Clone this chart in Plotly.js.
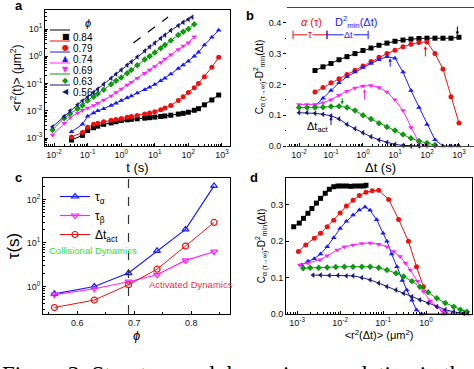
<!DOCTYPE html>
<html><head><meta charset="utf-8">
<script src="https://cdn.plot.ly/plotly-3.0.1.min.js"></script>
<style>html,body{margin:0;padding:0;background:#fff}#chart{width:474px;height:369px}</style>
</head><body><div id="chart"></div>
<script>
// ---------- shared ----------
const phiLabels = ['0.84','0.79','0.74','0.69','0.63','0.56'];
const seriesColors = ['#000000','#ee1111','#1a1aff','#ff22ff','#119911','#1a1a7a'];
const seriesSymbols = ['square','circle','triangle-up','triangle-down','diamond','triangle-left'];
const legendGlyphs = ['\u25A0','\u25CF','\u25B2','\u25BC','\u25C6','\u25C0'];

// tick labels
const decadeVals = [0.001,0.01,0.1,1,10,100,1000];
const decadeText = ['10<sup>-3</sup>','10<sup>-2</sup>','10<sup>-1</sup>','10<sup>0</sup>','10<sup>1</sup>','10<sup>2</sup>','10<sup>3</sup>'];

// ---------- panel a : MSD vs t ----------
const tLate = [0.033,0.07,0.1,0.15,0.2,0.3,0.5,0.7,1,1.5,2,3,5,7,10,15,20,30,50,70,100,150,200,300,500,800];
const t063 = [0.009,0.02,0.03,0.05,0.07,0.1,0.15,0.2,0.3,0.5,0.7,1,1.5,2,3,5,7,10,15,20,30,50,70,100,150];
const t056 = [0.009,0.02,0.03,0.05,0.07,0.1,0.15,0.2,0.3,0.5,0.7,1,1.5,2,3,5,7,10,15,20,30,50,70,100,130];
const msd084 = [0.00085,0.00126,0.0019,0.0024,0.00275,0.0032,0.0036,0.004,0.0044,0.0047,0.0049,0.0051,0.0054,0.0056,0.0059,0.0062,0.0065,0.0069,0.0076,0.0081,0.0089,0.0105,0.012,0.0166,0.025,0.038];
const msd079 = [0.0011,0.0016,0.0025,0.0032,0.0035,0.004,0.0045,0.0048,0.0052,0.0058,0.0062,0.0068,0.0076,0.0083,0.0093,0.011,0.0126,0.0158,0.024,0.033,0.047,0.071,0.1,0.178,0.4,0.93];
const msd074 = [0.0017,0.0032,0.0063,0.0083,0.01,0.012,0.0158,0.019,0.024,0.03,0.035,0.045,0.06,0.074,0.093,0.126,0.158,0.224,0.355,0.48,0.66,1.0,1.41,2.6,5.0,9.1];
const msd069 = [0.0013,0.0035,0.0056,0.0083,0.0105,0.0126,0.0158,0.019,0.025,0.035,0.047,0.063,0.089,0.112,0.158,0.24,0.316,0.42,0.6,0.79,1.15,1.78,2.4,3.16,5.2];
const msd063 = [0.002,0.0054,0.0079,0.012,0.0158,0.024,0.033,0.042,0.06,0.095,0.126,0.166,0.24,0.316,0.47,0.76,1.0,1.38,2.0,2.6,3.8,6.0,7.9,10,15];
const msd056 = [0.0026,0.0063,0.01,0.0166,0.0234,0.032,0.048,0.063,0.095,0.158,0.224,0.316,0.48,0.63,0.95,1.58,2.24,3.1,4.6,6.0,8.9,13.5,17.8,22.9,27.5];
const slopeGuideT = [2.3, 25];
const slopeGuideMSD = [3.1, 27.5];

// ---------- panel b : C vs dt ----------
const dtB = [0.01,0.0178,0.0316,0.0562,0.1,0.178,0.316,0.562,1,1.78,3.16,5.62,10,17.8,31.6,56.2,100,178,316,562,1000];
const cB084 = [0.245,0.257,0.268,0.28,0.29,0.3,0.31,0.318,0.327,0.334,0.34,0.344,0.347,0.349,0.35,0.35,0.35,0.35,0.353];
const cB079 = [0.175,0.19,0.205,0.218,0.232,0.246,0.26,0.274,0.288,0.3,0.311,0.322,0.33,0.336,0.338,0.3,0.25,0.16,0.075];
const cB074 = [0.13,0.155,0.18,0.205,0.225,0.24,0.255,0.268,0.28,0.29,0.285,0.24,0.18,0.125,0.07,0.02,0.0,0.0,0.0];
const cB069 = [0.135,0.135,0.135,0.14,0.15,0.165,0.178,0.188,0.195,0.196,0.19,0.175,0.15,0.115,0.06,0.01,0.0,0.0];
const cB063 = [0.125,0.125,0.125,0.126,0.128,0.129,0.125,0.115,0.1,0.088,0.074,0.062,0.05,0.037,0.025,0.016,0.01,0.003];
const cB056 = [0.108,0.108,0.106,0.103,0.098,0.088,0.07,0.056,0.043,0.03,0.02,0.012,0.005,0.002,0.0,0.0];
const bracketTau = [0.0065, 0.075];
const bracketDt = [0.075, 1.45];
const bracketLevel = 0.361;

// ---------- panel c : time scales vs phi ----------
const phi = [0.56,0.63,0.69,0.74,0.79,0.84];
const tauAlpha = [0.68,1.0,2.04,6.6,20.4,204];
const tauBeta = [0.65,0.89,1.29,1.86,3.98,6.3];
const dtAct = [0.33,0.49,1.1,2.5,8.5,29.5];
const phiCrossover = 0.69;

// ---------- panel d : C vs MSD ----------
const rD084 = [0.00083,0.00112,0.0014,0.00178,0.0022,0.0028,0.0035,0.0045,0.0056,0.0071,0.0089,0.011,0.014,0.0178,0.022,0.028,0.035,0.04];
const cD084 = [0.24,0.25,0.263,0.277,0.29,0.305,0.318,0.332,0.343,0.35,0.352,0.352,0.352,0.351,0.352,0.352,0.352,0.354];
const rD079 = [0.00107,0.00158,0.0025,0.0035,0.005,0.0071,0.01,0.014,0.02,0.028,0.04,0.056,0.079,0.135,0.23,0.39,0.6,0.87];
const cD079 = [0.172,0.19,0.208,0.222,0.24,0.258,0.278,0.297,0.313,0.326,0.335,0.339,0.34,0.315,0.26,0.2,0.13,0.075];
const rD074 = [0.00126,0.00178,0.0025,0.0035,0.005,0.0071,0.01,0.014,0.02,0.028,0.038,0.05,0.071,0.1,0.123,0.158,0.21,0.28,0.355,0.47,0.6,0.79,2.6,9.1];
const cD074 = [0.135,0.145,0.152,0.165,0.185,0.21,0.235,0.255,0.272,0.286,0.294,0.285,0.259,0.222,0.2,0.165,0.13,0.092,0.066,0.038,0.011,0.0,0.0,0.0];
const rD069 = [0.00115,0.00178,0.0034,0.005,0.0085,0.0126,0.02,0.032,0.05,0.079,0.123,0.178,0.25,0.33,0.43,0.63,0.87,1.26,1.78,2.4,3.0];
const cD069 = [0.135,0.14,0.149,0.16,0.176,0.185,0.19,0.194,0.195,0.192,0.185,0.172,0.158,0.14,0.121,0.09,0.062,0.035,0.02,0.008,0.004];
const rD063 = [0.00138,0.002,0.00316,0.005,0.0079,0.0126,0.02,0.032,0.05,0.079,0.123,0.2,0.3,0.47,0.72,1.12,1.78,2.8,4.4,6.3,8.9];
const cD063 = [0.126,0.127,0.127,0.128,0.129,0.13,0.13,0.13,0.13,0.127,0.121,0.112,0.103,0.09,0.075,0.06,0.043,0.03,0.02,0.012,0.006];
const rD056 = [0.00234,0.0035,0.0056,0.0089,0.014,0.02,0.032,0.05,0.079,0.123,0.2,0.3,0.47,0.72,1.12,1.78,2.8,4.4,7.4];
const cD056 = [0.107,0.107,0.106,0.106,0.105,0.105,0.1,0.094,0.085,0.075,0.066,0.057,0.048,0.039,0.03,0.02,0.012,0.006,0.002];
const msdAtPeak = 0.04;

// ---------- build ----------
const W = 474, H = 369;
const px = v => v / W;
const py = v => 1 - v / H;
const FONT = 'Liberation Sans, Arial, sans-serif';

const traces = [];
function add(x, y, i, xa, ya, size) {
  traces.push({
    x: x, y: y, xaxis: xa, yaxis: ya, type: 'scatter', mode: 'lines+markers',
    showlegend: false, cliponaxis: false,
    line: {color: seriesColors[i], width: 1},
    marker: {color: seriesColors[i], symbol: seriesSymbols[i], size: size || 5}
  });
}
// a
[[tLate,msd084],[tLate,msd079],[tLate,msd074],[t063,msd069],[t063,msd063],[t056,msd056]]
  .forEach((p, i) => add(p[0], p[1], i, 'x', 'y', 5));
traces.push({x: slopeGuideT, y: slopeGuideMSD, xaxis:'x', yaxis:'y', mode:'lines', showlegend:false,
  line:{color:'#000', width:1.2, dash:'dash'}});
// b
[[dtB.slice(2),cB084],[dtB.slice(2),cB079],[dtB.slice(2),cB074],[dtB.slice(0,cB069.length),cB069],
 [dtB.slice(0,cB063.length),cB063],[dtB.slice(0,cB056.length),cB056]]
  .forEach((p, i) => add(p[0], p[1], i, 'x2', 'y2'));
traces.push({x: bracketTau, y: [bracketLevel, bracketLevel], xaxis:'x2', yaxis:'y2', mode:'lines+markers', showlegend:false,
  line:{color:'#ee1111', width:1}, marker:{symbol:'line-ns-open', size:6, color:'#ee1111', line:{color:'#ee1111',width:1}}});
traces.push({x: bracketDt, y: [bracketLevel, bracketLevel], xaxis:'x2', yaxis:'y2', mode:'lines+markers', showlegend:false,
  line:{color:'#1a1aff', width:1}, marker:{symbol:'line-ns-open', size:6, color:'#1a1aff', line:{color:'#1a1aff',width:1}}});
// c
traces.push({x: phi, y: tauAlpha, xaxis:'x3', yaxis:'y3', mode:'lines+markers', name:'τ<sub>α</sub>',
  line:{color:'#1a1aff', width:1.2}, marker:{symbol:'triangle-up-open', size:6, color:'#1a1aff', line:{width:1.2}}});
traces.push({x: phi, y: tauBeta, xaxis:'x3', yaxis:'y3', mode:'lines+markers', name:'τ<sub>β</sub>',
  line:{color:'#ff22ff', width:1.2}, marker:{symbol:'triangle-down-open', size:6, color:'#ff22ff', line:{width:1.2}}});
traces.push({x: phi, y: dtAct, xaxis:'x3', yaxis:'y3', mode:'lines+markers', name:'Δt<sub>act</sub>',
  line:{color:'#ee1111', width:1}, marker:{symbol:'circle-open', size:6, color:'#ee1111', line:{width:1.2}}});
// d
[[rD084,cD084],[rD079,cD079],[rD074,cD074],[rD069,cD069],[rD063,cD063],[rD056,cD056]]
  .forEach((p, i) => add(p[0], p[1], i, 'x4', 'y4'));

const axBase = {
  showline: true, linecolor: '#000', linewidth: 1, mirror: true, ticks: 'inside', ticklen: 3,
  tickcolor: '#000', showgrid: false, zeroline: false, tickfont: {size: 9, family: FONT, color: '#111'}
};
const logAx = Object.assign({}, axBase, {type: 'log', tickmode: 'array', tickvals: decadeVals, ticktext: decadeText,
  minor: {ticks: 'inside', ticklen: 2, tickcolor: '#000', dtick: 'D1'}});

const yDomTop = [py(146), py(10)];
const yDomBot = [py(314), py(178)];
const cTitle = 'C<sub>α (τ→∞)</sub>-D<sup>2</sup><sub>min</sub>(Δt)';

const annotations = [];
const shapes = [];
// legend of panel a (drawn manually)
const legRowY = [30, 41, 52, 63, 74, 85];
annotations.push({xref:'paper', yref:'paper', x: px(83), y: py(15), text:'<i>ϕ</i>', showarrow:false,
  font:{size:11, family:FONT, color:'#000'}});
phiLabels.forEach((lab, i) => {
  shapes.push({type:'line', xref:'paper', yref:'paper', x0:px(50), x1:px(70), y0:py(legRowY[i]), y1:py(legRowY[i]),
    line:{color:seriesColors[i], width:1}});
  annotations.push({xref:'paper', yref:'paper', x:px(60), y:py(legRowY[i]), text:legendGlyphs[i], showarrow:false,
    font:{size:8, color:seriesColors[i], family:'DejaVu Sans'}});
  annotations.push({xref:'paper', yref:'paper', x:px(71), y:py(legRowY[i]), xanchor:'left', text:lab, showarrow:false,
    font:{size:10, color:'#000', family:FONT}});
});
// panel labels
[['a',13,-4],['b',250,6],['c',13,178],['d',254,178]].forEach(l => annotations.push({
  xref:'paper', yref:'paper', x:px(l[1]), y:py(l[2]), text:'<b>'+l[0]+'</b>', showarrow:false,
  font:{size:13, family:FONT, color:'#000'}}));
// panel b texts
annotations.push({xref:'x2', yref:'y2', x:-1.62, y:0.402, text:'<i>α</i> (τ)', showarrow:false, font:{size:11, color:'#ee1111', family:FONT}});
annotations.push({xref:'x2', yref:'y2', x:-0.22, y:0.402, text:'D<sup>2</sup><sub>min</sub>(Δt)', showarrow:false, font:{size:11, color:'#1a1aff', family:FONT}});
annotations.push({xref:'x2', yref:'y2', x:-1.65, y:bracketLevel, text:'τ', showarrow:false, bgcolor:'#fff', borderpad:0, font:{size:10, color:'#ee1111', family:FONT}});
annotations.push({xref:'x2', yref:'y2', x:-0.45, y:bracketLevel, text:'Δt', showarrow:false, bgcolor:'#fff', borderpad:0, font:{size:9, color:'#1a1aff', family:FONT}});
annotations.push({xref:'x2', yref:'y2', x:-1.4, y:0.062, text:'Δt<sub>act</sub>', showarrow:false, font:{size:11, color:'#000', family:FONT}});
[[2.95,0.36,-10,0],[1.95,0.325,12,1],[0.85,0.285,10,2],[0.05,0.185,12,3],[-0.65,0.135,-8,4],[-1.0,0.095,10,5]]
  .forEach(a => annotations.push({xref:'x2', yref:'y2', x:a[0], y:a[1], ax:0, ay:a[2], text:'', showarrow:true,
    arrowhead:2, arrowsize:0.7, arrowwidth:1, arrowcolor: seriesColors[a[3]]}));
// panel c texts
annotations.push({xref:'paper', yref:'paper', x:px(47), y:py(258), xanchor:'left', text:'Collisional Dynamics', showarrow:false, font:{size:9.5, color:'#33dd33', family:FONT}});
annotations.push({xref:'paper', yref:'paper', x:px(147), y:py(292), xanchor:'left', text:'Activated Dynamics', showarrow:false, font:{size:9.5, color:'#ee3333', family:FONT}});
// caption (cut off at bottom edge, as in the source)
annotations.push({xref:'paper', yref:'paper', x:0, y:py(360), xanchor:'left', yanchor:'top',
  text:'Figure 3: Structure and dynamics correlation in the', showarrow:false,
  font:{size:23, color:'#000', family:'Liberation Serif, serif'}});

shapes.push({type:'line', xref:'x3', yref:'y3 domain', x0:phiCrossover, x1:phiCrossover, y0:0, y1:1,
  line:{color:'#333', width:1.2, dash:'dash'}});
shapes.push({type:'line', xref:'x4', yref:'y4 domain', x0:Math.log10(msdAtPeak), x1:Math.log10(msdAtPeak), y0:0, y1:1,
  line:{color:'#000', width:1, dash:'dot'}});

const layout = {
  width: W, height: H, margin: {l:0, r:0, t:0, b:0}, paper_bgcolor:'#fff', plot_bgcolor:'#fff',
  font: {family: FONT, color: '#000'},
  showlegend: true,
  legend: {x: px(55), y: py(182), xanchor:'left', yanchor:'top', bgcolor:'rgba(0,0,0,0)',
    font:{size:12, family:FONT}, tracegroupgap:0},
  xaxis: Object.assign({}, logAx, {domain:[px(45), px(230)], range:[-2.27, 3.24], anchor:'y',
    title:{text:'t (s)', font:{size:13, family:FONT}, standoff:1}}),
  yaxis: Object.assign({}, logAx, {domain:yDomTop, range:[-3.29, 1.70], anchor:'x',
    title:{text:'&lt;r<sup>2</sup>(t)&gt; (μm<sup>2</sup>)', font:{size:12, family:FONT}, standoff:2}}),
  xaxis2: Object.assign({}, logAx, {domain:[px(287), 1], range:[-2.375, 3.47], anchor:'y2', linecolor:'#444',
    title:{text:'Δt (s)', font:{size:13, family:FONT}, standoff:1}}),
  yaxis2: Object.assign({}, axBase, {domain:[py(146), py(8)], range:[0, 0.448], anchor:'x2', showline:false,
    ticks:'outside', dtick:0.1, tickformat:'.1f', minor:{ticks:'outside', ticklen:1.5, dtick:0.05, tickcolor:'#000'},
    title:{text:cTitle, font:{size:10, family:FONT}, standoff:3}}),
  xaxis3: Object.assign({}, axBase, {domain:[px(43), px(230)], range:[0.540, 0.868], anchor:'y3', dtick:0.1, tickformat:'.1f',
    minor:{ticks:'inside', ticklen:2, dtick:0.05, tickcolor:'#000'},
    title:{text:'<i>ϕ</i>', font:{size:13, family:FONT}, standoff:2}}),
  yaxis3: Object.assign({}, logAx, {domain:yDomBot, range:[-0.63, 2.49], anchor:'x3',
    title:{text:'τ(s)', font:{size:17, family:FONT}, standoff:2}}),
  xaxis4: Object.assign({}, logAx, {domain:[px(286), px(472)], range:[-3.26, 1.07], anchor:'y4',
    title:{text:'&lt;r<sup>2</sup>(Δt)&gt; (μm<sup>2</sup>)', font:{size:11, family:FONT}, standoff:1}}),
  yaxis4: Object.assign({}, axBase, {domain:yDomBot, range:[0, 0.374], anchor:'x4', dtick:0.1, tickformat:'.1f',
    title:{text:cTitle, font:{size:10, family:FONT}, standoff:3}}),
  annotations: annotations,
  shapes: shapes
};
Plotly.newPlot('chart', traces, layout, {displayModeBar:false, staticPlot:true});
</script></body></html>
